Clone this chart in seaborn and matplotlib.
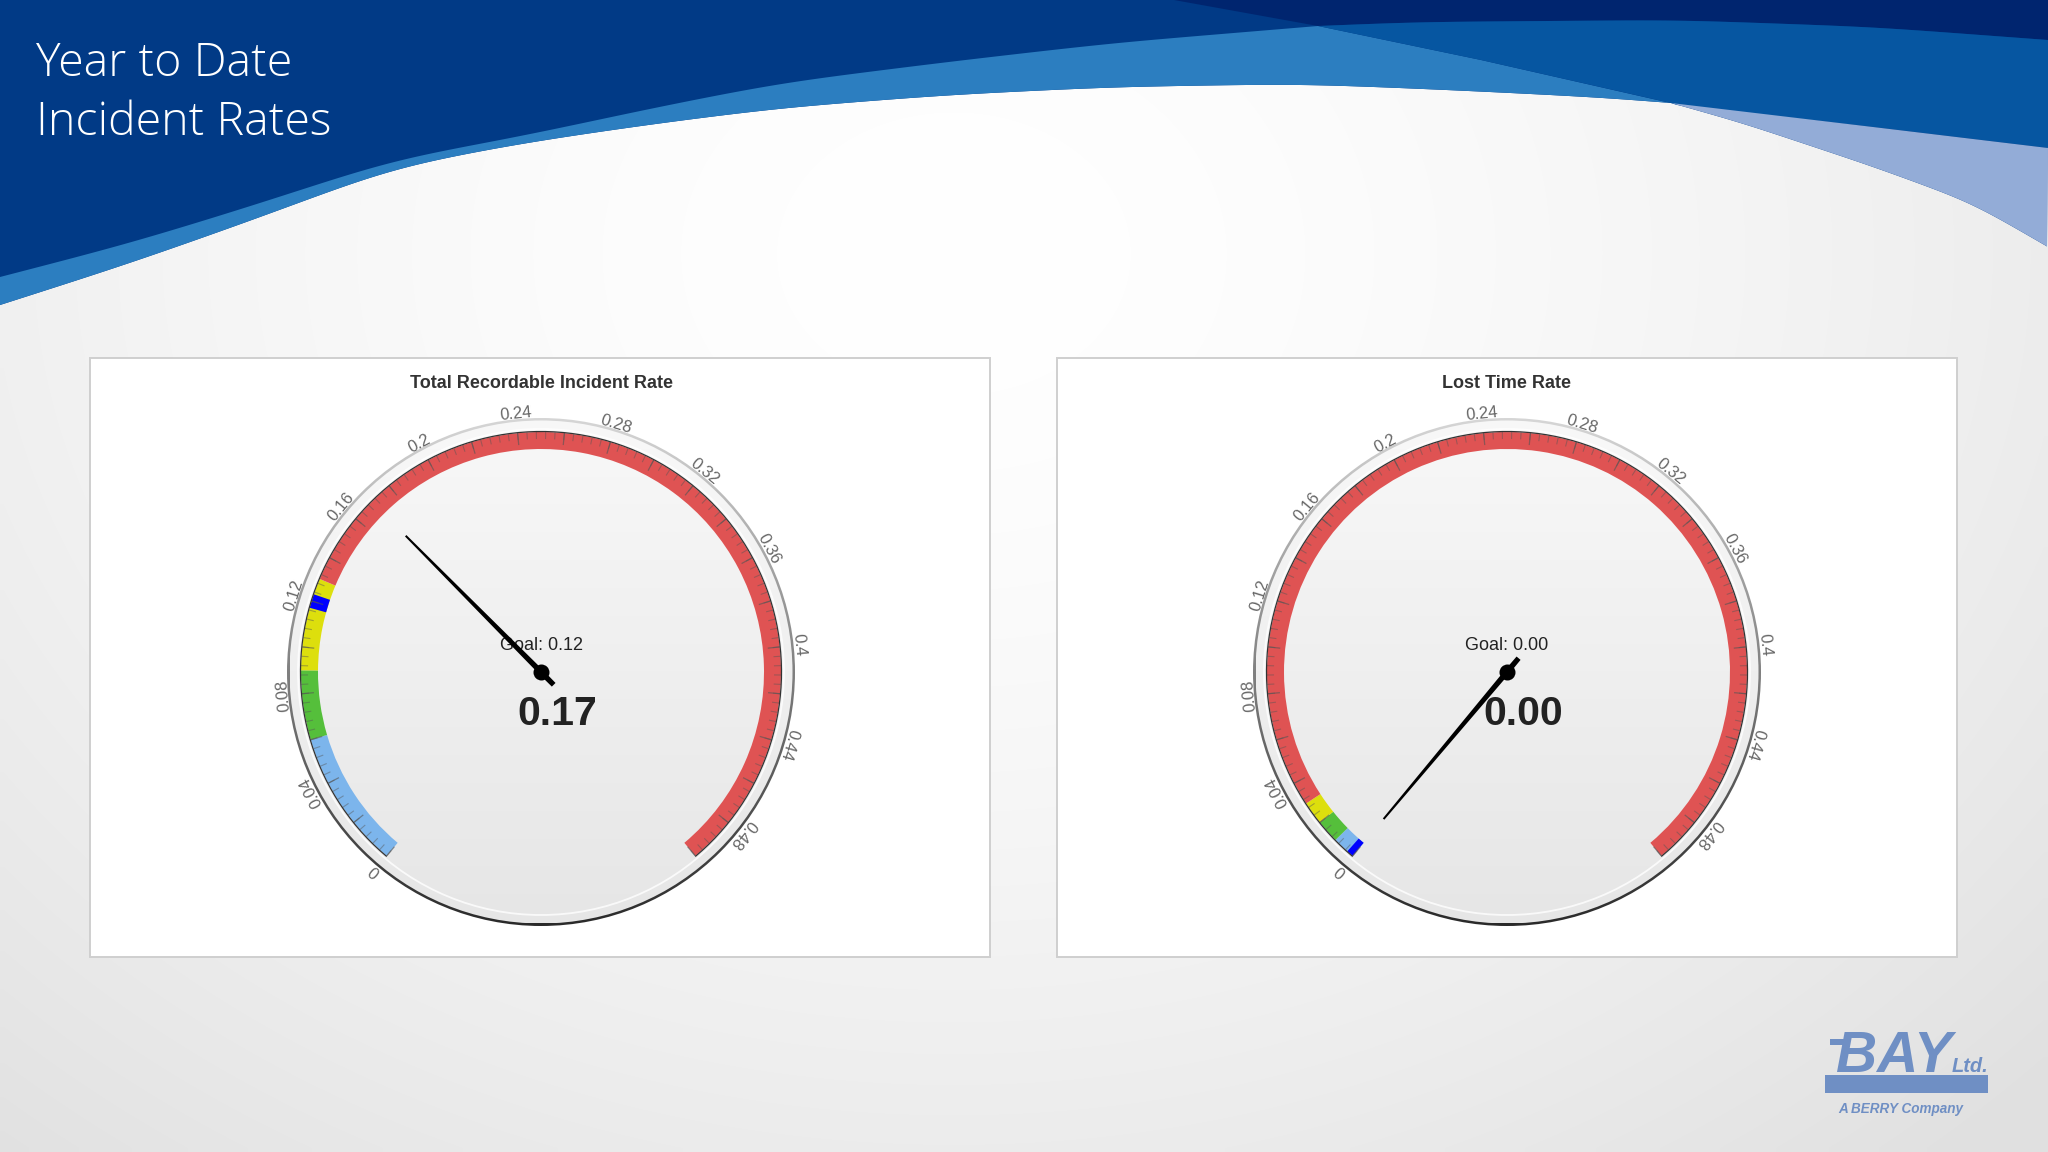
import numpy as np
import matplotlib
matplotlib.use("Agg")
import matplotlib.pyplot as plt
import matplotlib.colors as mcolors
from matplotlib.patches import Polygon, Circle, Rectangle
import seaborn as sns

sns.set_theme(style="white")
plt.rcParams["font.family"] = ["Liberation Sans", "DejaVu Sans"]

W, H = 2048, 1152

# ------------------------------------------------------------------ data
slide_title = ["Year to Date", "Incident Rates"]
gauge_titles = ["Total Recordable Incident Rate", "Lost Time Rate"]
gauge_values = [0.17, 0.00]
gauge_goals = [0.12, 0.00]
value_labels = ["0.17", "0.00"]
goal_labels = ["Goal: 0.12", "Goal: 0.00"]
scale_min = 0.0
scale_max = 0.5
band_colors = ["#7cb5ec", "#55bf3b", "#dddf0d", "#df5353"]
trir_band_edges = [0.0, 0.06, 0.09, 0.13, 0.5]
ltr_band_edges = [0.0, 0.01, 0.02, 0.03, 0.5]
gauge_band_edges = [trir_band_edges, ltr_band_edges]
goal_band_halfwidth = 0.003
goal_band_color = "#0000ff"
tick_label_values = [0.0, 0.04, 0.08, 0.12, 0.16, 0.20, 0.24,
                     0.28, 0.32, 0.36, 0.40, 0.44, 0.48]
tick_labels = ["0", "0.04", "0.08", "0.12", "0.16", "0.2", "0.24",
               "0.28", "0.32", "0.36", "0.4", "0.44", "0.48"]
major_tick_step = 0.02
minor_tick_step = 0.004

# ------------------------------------------------------------------ layout
gauge_centers = [(541, 672), (1507, 672)]
panels = [(90, 358, 900, 599), (1057, 358, 900, 599)]
R_BAND_IN, R_BAND_OUT = 223, 240
R_LABEL = 259
R_NEEDLE = 192
S = 280  # half size of polar axes box in px

NAVY = "#013a86"
DARK_NAVY = "#00256f"
LIGHT_BLUE = "#2c7ec0"
MID_BLUE = "#0656a1"
PALE_BLUE = "#93acd7"
LOGO = "#6f8fc4"

fig = plt.figure(figsize=(W / 100, H / 100), dpi=100)
bg = fig.add_axes([0, 0, 1, 1])
bg.set_axis_off()


def px(v):
    return v * 0.72


def smooth_curve(points, sigma=40):
    p = np.asarray(points, float)
    xs = np.arange(p[0, 0], p[-1, 0] + 1, 2.0)
    ys = np.interp(xs, p[:, 0], p[:, 1])
    k = int(3 * sigma / 2)
    pad = np.pad(ys, k, mode="reflect", reflect_type="odd")
    g = np.exp(-0.5 * (np.arange(-k, k + 1) * 2.0 / sigma) ** 2)
    g /= g.sum()
    ys_s = np.convolve(pad, g, mode="same")[k:-k]
    ys_s[0], ys_s[-1] = ys[0], ys[-1]
    return np.column_stack([xs, ys_s])


# background gradient
yy, xx = np.mgrid[0:H:8, 0:W:8]
d = np.hypot(xx - 950, (yy - 250) * 1.25) / 1500
v = 1 - 0.12 * np.clip(d, 0, 1) ** 1.6
bg.imshow(np.dstack([v, v, v]), extent=[0, W, H, 0], aspect="auto",
          interpolation="bilinear", zorder=0)

# swooshes
white_top = smooth_curve([(0, 305), (131, 263), (261, 217), (392, 168), (523, 143),
                          (653, 124), (780, 108), (947, 95), (1113, 87), (1300, 84),
                          (1450, 90), (1612, 98), (1671, 103)], sigma=45)
pale_edge = smooth_curve([(1671, 103), (1742, 123), (1874, 167), (1972, 203),
                          (2048, 247)], sigma=25)
lb_top = smooth_curve([(0, 277), (131, 243), (261, 203), (392, 160), (523, 136),
                       (653, 108), (780, 83), (947, 62), (1113, 43), (1318, 26)], sigma=45)
mid_top = smooth_curve([(1318, 26), (1416, 22), (1677, 20), (1873, 27), (2048, 40)], sigma=40)

navy_poly = np.vstack([[(0, 0), (W, 0)], pale_edge[::-1], white_top[::-1]])
bg.add_patch(Polygon(navy_poly, closed=True, fc=NAVY, ec="none", zorder=1))
lb_poly = np.vstack([lb_top, [(1481, 60)], white_top[::-1]])
bg.add_patch(Polygon(lb_poly, closed=True, fc=LIGHT_BLUE, ec="none", zorder=1.1))
dn_poly = np.vstack([[(1174, 0), (W, 0)], mid_top[::-1]])
bg.add_patch(Polygon(dn_poly, closed=True, fc=DARK_NAVY, ec="none", zorder=1.2))
mid_poly = np.vstack([mid_top, [(2048, 148), (1873, 127), (1677, 105), (1671, 103), (1481, 60)]])
bg.add_patch(Polygon(mid_poly, closed=True, fc=MID_BLUE, ec="none", zorder=1.2))
pale_poly = np.vstack([[(1671, 103), (1873, 127), (2048, 148)], pale_edge[::-1]])
bg.add_patch(Polygon(pale_poly, closed=True, fc=PALE_BLUE, ec="none", zorder=1.3))

# slide title
for i, line in enumerate(slide_title):
    fig.text(36 / W, 1 - (76 + 59 * i) / H, line, color="white", fontsize=px(46.5),
             family=["Open Sans", "DejaVu Sans"], weight="light", va="baseline", ha="left")

# panels
for (x0, y0, w, h) in panels:
    bg.add_patch(Rectangle((x0, y0), w, h, fc="white", ec="#cfcfcf", lw=1.4, zorder=2))


def grad_circle(cx, cy, r, top, bottom, z):
    t = np.linspace(0, 1, 256)[:, None, None]
    c0 = np.array(mcolors.to_rgb(top))[None, None, :]
    c1 = np.array(mcolors.to_rgb(bottom))[None, None, :]
    img = c0 * (1 - t) + c1 * t
    im = bg.imshow(img, extent=[cx - r, cx + r, cy + r, cy - r], aspect="auto",
                   interpolation="bilinear", zorder=z)
    im.set_clip_path(Circle((cx, cy), r, transform=bg.transData))


for (cx, cy) in gauge_centers:
    grad_circle(cx, cy, 254, "#d6d6d6", "#2a2a2a", 3)
    grad_circle(cx, cy, 251.5, "#f8f8f8", "#e6e6e6", 3.1)
    bg.add_patch(Circle((cx, cy), 243, fc="none", ec="white", lw=1.3, alpha=0.8, zorder=3.2))

bg.set_xlim(0, W)
bg.set_ylim(H, 0)


def to_ang(val):
    return np.deg2rad(-140 + (np.asarray(val) - scale_min) / (scale_max - scale_min) * 280)


for gi, (cx, cy) in enumerate(gauge_centers):
    ax = fig.add_axes([(cx - S) / W, (H - cy - S) / H, 2 * S / W, 2 * S / H], projection="polar")
    ax.set_theta_zero_location("N")
    ax.set_theta_direction(-1)
    ax.set_ylim(0, S)
    ax.set_axis_off()

    edges = gauge_band_edges[gi]
    for k, col in enumerate(band_colors):
        a0, a1 = to_ang(edges[k]), to_ang(edges[k + 1])
        ax.bar((a0 + a1) / 2, R_BAND_OUT - R_BAND_IN, width=a1 - a0, bottom=R_BAND_IN,
               color=col, edgecolor="none", zorder=2)
    g0 = max(scale_min, gauge_goals[gi] - goal_band_halfwidth)
    g1 = gauge_goals[gi] + goal_band_halfwidth
    a0, a1 = to_ang(g0), to_ang(g1)
    ax.bar((a0 + a1) / 2, R_BAND_OUT - R_BAND_IN, width=a1 - a0, bottom=R_BAND_IN,
           color=goal_band_color, edgecolor="none", zorder=2.5)

    minor = np.arange(scale_min, scale_max + 1e-9, minor_tick_step)
    major = np.arange(scale_min, scale_max + 1e-9, major_tick_step)
    ax.vlines(to_ang(minor), R_BAND_OUT - 7, R_BAND_OUT, colors="#555555", lw=0.8,
              alpha=0.45, zorder=3)
    ax.vlines(to_ang(major), R_BAND_OUT - 12, R_BAND_OUT, colors="#555555", lw=0.9,
              alpha=0.6, zorder=3)
    th = np.linspace(to_ang(scale_min), to_ang(scale_max), 400)
    ax.plot(th, np.full_like(th, R_BAND_OUT + 0.5), color="#333333", lw=0.9, zorder=3.5)

    for tv, tl in zip(tick_label_values, tick_labels):
        a = float(to_ang(tv))
        ax.text(a, R_LABEL, tl, rotation=-np.rad2deg(a), rotation_mode="anchor",
                ha="center", va="center", fontsize=px(16.5), color="#666666", zorder=4)

    ax.text(0.5, 0.5 + 26 / (2 * S), goal_labels[gi], transform=ax.transAxes,
            ha="center", va="center", fontsize=px(18), color="#222222", zorder=5)
    ax.text(0.5 + 16 / (2 * S), 0.5 - 42 / (2 * S), value_labels[gi], transform=ax.transAxes,
            ha="center", va="center", fontsize=px(41), weight="bold", color="#222222", zorder=5)

    av = float(to_ang(gauge_values[gi]))
    sp = np.array([(R_NEEDLE, 1.0), (0, 2.8), (-18, 2.6), (-18, -2.6), (0, -2.8), (R_NEEDLE, -1.0)])
    rr = np.hypot(sp[:, 0], sp[:, 1])
    tt = av + np.arctan2(sp[:, 1], sp[:, 0])
    ax.add_patch(Polygon(np.column_stack([tt, rr]), closed=True, fc="black", ec="none", zorder=6))
    ax.scatter([0], [0], s=(px(16)) ** 2, color="black", zorder=7, linewidths=0)

    fig.text(cx / W, 1 - 383 / H, gauge_titles[gi], ha="center", va="center",
             fontsize=px(18), weight="bold", color="#333333")

# logo
bg.add_patch(Rectangle((1825, 1075), 163, 18, fc=LOGO, ec="none", zorder=5))
bg.add_patch(Rectangle((1830, 1039), 16, 6, fc=LOGO, ec="none", zorder=5))
bg.text(1836, 1072, "BAY", color=LOGO, fontsize=41, weight="bold", style="italic",
        family=["Liberation Sans Narrow", "Liberation Sans"], ha="left", va="baseline", zorder=5)
bg.text(1988, 1072, "Ltd.", color=LOGO, fontsize=px(20), weight="bold", style="italic",
        ha="right", va="baseline", zorder=5)
bg.text(1838, 1113, "A BERRY Company", color=LOGO, fontsize=px(13.5), weight="bold",
        style="italic", ha="left", va="baseline", zorder=5)

fig.savefig("out.png", dpi=100)
